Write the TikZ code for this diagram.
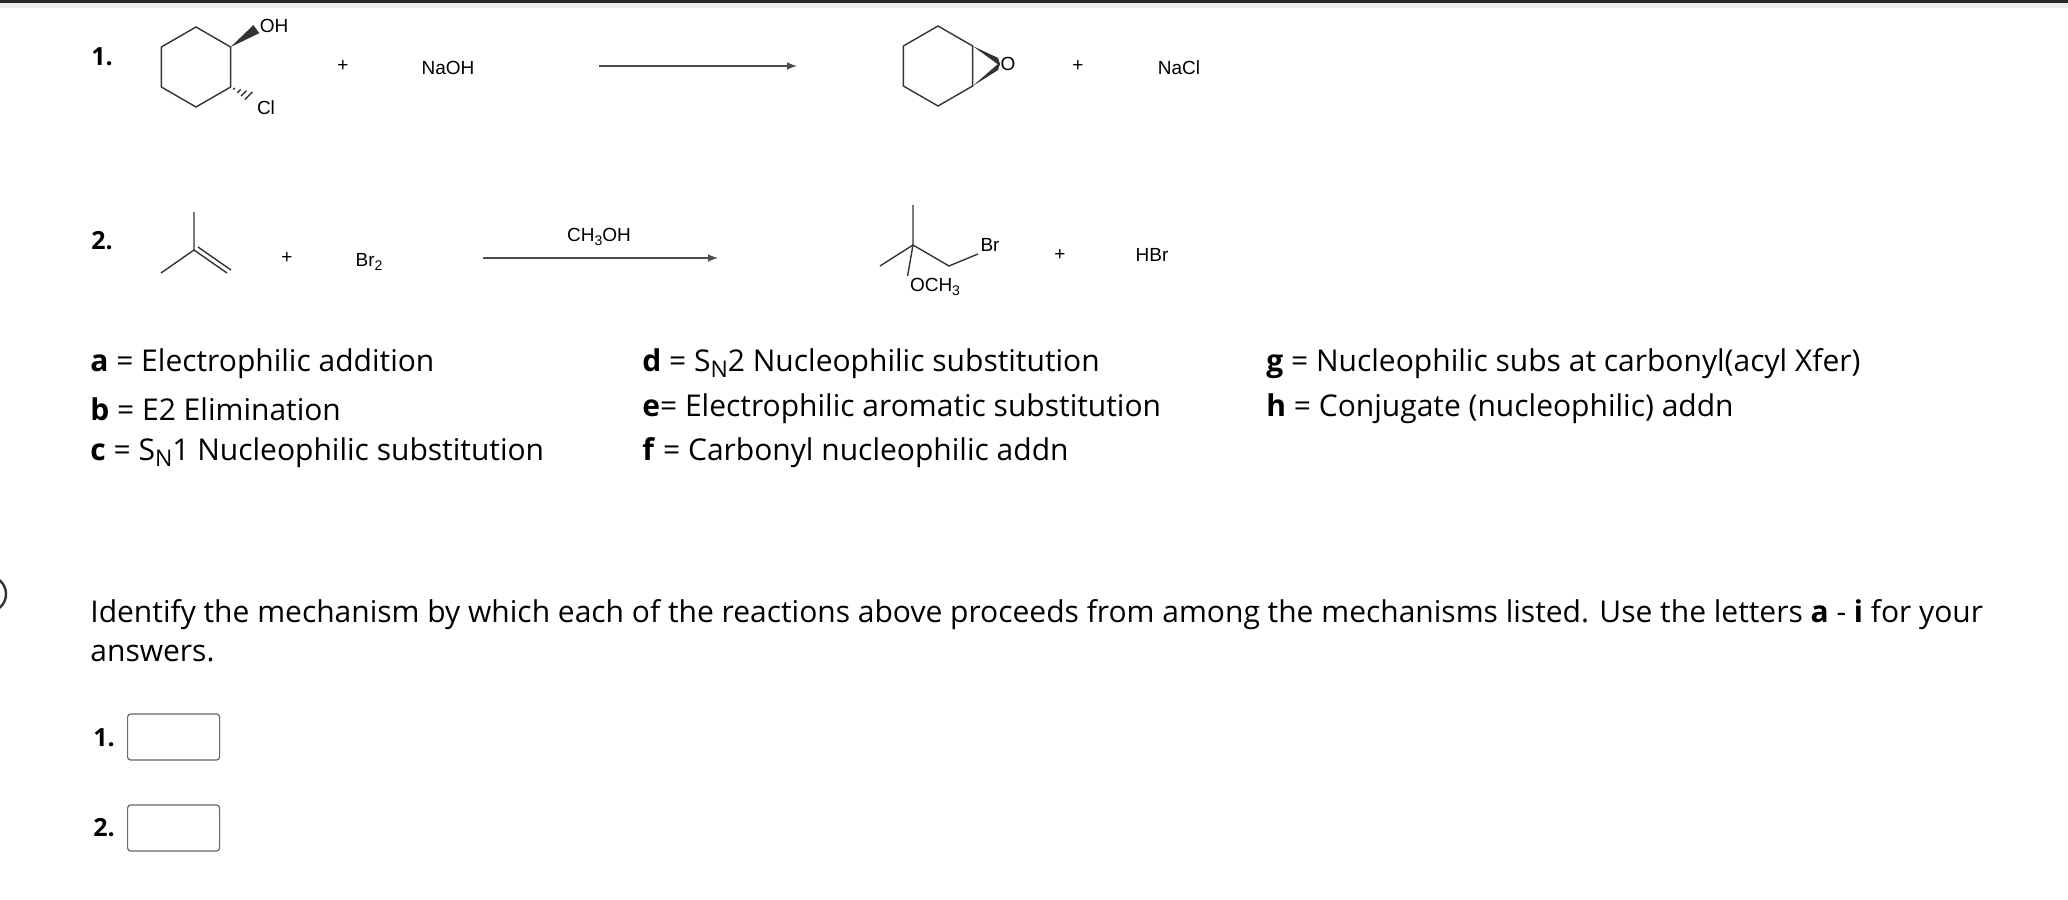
\documentclass[tikz,border=0pt]{standalone}
\usepackage{fontspec}
\setmainfont{Open Sans}
\newfontfamily\chemf{Liberation Sans}
\usetikzlibrary{calc}
\newcommand{\chsub}[1]{\raisebox{-0.4ex}{\fontsize{7}{8}\selectfont #1}}
\begin{document}
\begin{tikzpicture}[x=0.5pt,y=-0.5pt,
  chem/.style={font=\chemf\fontsize{9.5}{11}\selectfont,inner sep=1pt},
  lab/.style={font=\fontsize{15}{18}\selectfont,anchor=west,inner sep=0pt},
  num/.style={font=\bfseries\fontsize{12.5}{14}\selectfont,inner sep=0pt},
  bond/.style={line width=0.7pt,black!80},
  rxnarrow/.style={line width=0.7pt,black!70,-latex},
  ansbox/.style={draw=black!60,rounded corners=1.5pt,line width=0.6pt,minimum width=46pt,minimum height=23pt,inner sep=0pt}]
\useasboundingbox (0,0) rectangle (2068,900);
\fill[black!85] (0,0) rectangle (2068,3);
\fill[black!7] (0,3) rectangle (2068,8);
\draw[line width=1.2pt,black!80] (-12,612) arc[start angle=90,end angle=-90,radius=18];
% Reaction 1
\node[num] (n1) at (102,57) {1.};
\foreach \i/\a in {1/90,2/30,3/-30,4/-90,5/-150,6/150}{\coordinate (r\i) at ($(196,67)+(\a:40 and -40)$);}
\draw[bond] (r1)--(r2)--(r3)--(r4)--(r5)--(r6)--cycle;
\node[chem] (oh) at (274,26) {OH};
\fill[black!80] (r2) -- ($(oh.south west)+(2,-2)$) -- ($(oh.south west)+(-4,-10)$) -- cycle;
\node[chem] (cl) at (266,108) {Cl};
\foreach \t in {0.15,0.35,0.55,0.75}{\draw[bond] ($(r3)!\t!(cl.north west)+(-\t*5,\t*5)$) -- ($(r3)!\t!(cl.north west)+(\t*5,-\t*5)$);}
\node[chem] (p1) at (343,66) {+};
\node[chem] (naoh) at (448,68) {NaOH};
\coordinate (a1s) at (599,66); \coordinate (a1e) at (797,66);
\draw[rxnarrow] (a1s) -- (a1e);
\foreach \i/\a in {1/90,2/30,3/-30,4/-90,5/-150,6/150}{\coordinate (e\i) at ($(938,66)+(\a:40 and -40)$);}
\draw[bond] (e1)--(e2)--(e3)--(e4)--(e5)--(e6)--cycle;
\node[chem] (eo) at (1008,64) {O};
\fill[black!80] (e2) -- ($(eo.west)+(0,-6)$) -- ($(eo.west)+(2,2)$) -- cycle;
\fill[black!80] (e3) -- ($(eo.west)+(0,6)$) -- ($(eo.west)+(2,-2)$) -- cycle;
\node[chem] (p2) at (1078,66) {+};
\node[chem] (nacl) at (1179,68) {NaCl};
% Reaction 2
\node[num] (n2) at (102,241) {2.};
\coordinate (ic) at (194,250); \coordinate (it) at (194,212);
\coordinate (il) at (161,273); \coordinate (ir) at (227,273);
\draw[bond] (it)--(ic)--(il); \draw[bond] (ic)--(ir);
\draw[bond] ($(ic)+(4,-3)$)--($(ir)+(4,-3)$);
\node[chem] (p3) at (287,258) {+};
\node[chem] (br2) at (369,262) {Br\chsub{2}};
\coordinate (a2s) at (483,258); \coordinate (a2e) at (718,258);
\draw[rxnarrow] (a2s) -- (a2e);
\node[chem] (meoh) at (599,237) {CH\chsub{3}OH};
\coordinate (pc) at (913,245); \coordinate (pt) at (913,205);
\coordinate (pl) at (880,266); \coordinate (pm) at (949,266);
\node[chem] (pbr) at (990,245) {Br};
\node[chem] (och) at (935,287) {OCH\chsub{3}};
\draw[bond] (pt)--(pc)--(pl); \draw[bond] (pc)--(pm)--(pbr.south west);
\draw[bond] (pc)--(och.north west);
\node[chem] (p4) at (1060,255) {+};
\node[chem] (hbr) at (1152,255) {HBr};
% Legend
\node[lab] (la) at (90,364) {\textbf{a} = Electrophilic addition};
\node[lab] (lb) at (90,409) {\textbf{b} = E2 Elimination};
\node[lab] (lc) at (90,453) {\textbf{c} = S\raisebox{-0.35ex}{\fontsize{11.5}{12}\selectfont N}1 Nucleophilic substitution};
\node[lab] (ld) at (642,364) {\textbf{d} = S\raisebox{-0.35ex}{\fontsize{11.5}{12}\selectfont N}2 Nucleophilic substitution};
\node[lab] (le) at (642,409) {\textbf{e}= Electrophilic aromatic substitution};
\node[lab] (lf) at (642,453) {\textbf{f} = Carbonyl nucleophilic addn};
\node[lab] (lg) at (1266,364) {\textbf{g} = Nucleophilic subs at carbonyl(acyl Xfer)};
\node[lab] (lh) at (1266,409) {\textbf{h} = Conjugate (nucleophilic) addn};
\node[lab] (q1) at (90,615) {Identify the mechanism by which each of the reactions above proceeds from among the mechanisms listed. Use the letters \textbf{a} - \textbf{i} for your};
\node[lab] (q2) at (90,654) {answers.};
\node[num] (an1) at (104,738) {1.};
\node[ansbox,anchor=west] (b1) at (127,737) {};
\node[num] (an2) at (104,828) {2.};
\node[ansbox,anchor=west] (b2) at (127,828) {};
\end{tikzpicture}
\end{document}
